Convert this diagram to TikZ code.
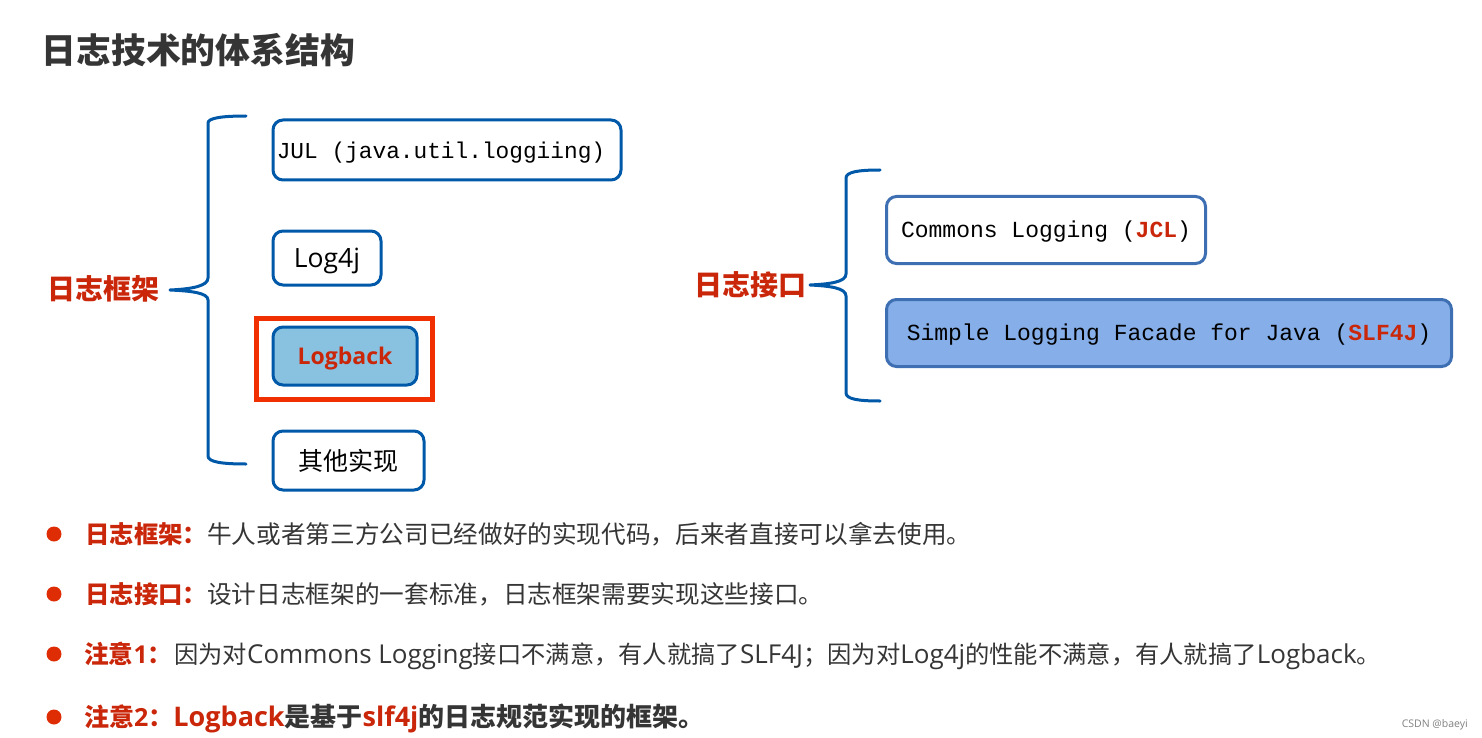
\documentclass[tikz,border=0pt]{standalone}
\usepackage{fontspec}
\setmainfont{Open Sans}
\newfontfamily\cjk{Noto Sans CJK SC}
\newfontfamily\lat{Open Sans}
\newfontfamily\mon{Liberation Mono}
\definecolor{boxblue}{HTML}{0058A8}
\definecolor{softblue}{HTML}{3E6FB2}
\definecolor{redtxt}{HTML}{C9260A}
\definecolor{redbox}{HTML}{F03000}
\definecolor{dotred}{HTML}{DE2C05}
\definecolor{ink}{HTML}{353535}
\definecolor{fillA}{HTML}{89C2E0}
\definecolor{fillB}{HTML}{86AEE8}
\newcommand{\fs}[1]{\fontsize{#1}{#1}\selectfont}
\newcommand{\rd}[1]{\textcolor{redtxt}{#1}}
\newcommand{\dn}[2]{\raisebox{-#1pt}[0pt][0pt]{#2}}
\newcommand{\la}[1]{{\lat\fs{26}#1}}
\tikzset{
  bx/.style={draw=boxblue,line width=3pt,rounded corners=10pt,inner sep=0pt,fill=white,text=black,align=center},
  softbx/.style={bx,draw=softblue},
  brace/.style={draw=boxblue,line width=3pt,line cap=round,line join=round},
  txt/.style={inner sep=0pt,anchor=base west,text=ink},
  dot/.style={circle,fill=dotred,draw=none,minimum size=15pt,inner sep=0pt},
  head/.style={inner sep=0pt,anchor=center,text=redtxt,font=\cjk\bfseries\fs{28}}
}
\begin{document}
\begin{tikzpicture}[x=1pt,y=-1pt]
\useasboundingbox (0,0) rectangle (1482,738);
\node[txt,font=\cjk\bfseries\fs{34.8},text=ink] (title) at (41.5,63.5) {日志技术的体系结构};
% left group
\node[bx,minimum width=348pt,minimum height=60pt] (jul) at (447,150) {\dn{8.5}{\mon\fs{22.8}JUL (java.util.loggiing)\hspace*{12pt}}};
\node[bx,minimum width=108pt,minimum height=54pt] (log4j) at (327,258) {\dn{9}{\lat\fs{26.5}Log4j}};
\node[draw=redbox,line width=5pt,minimum width=176pt,minimum height=81pt,inner sep=0pt] (hl) at (344.5,359) {};
\node[bx,fill=fillA,minimum width=144pt,minimum height=58pt] (logback) at (345,356) {\dn{8.5}{\lat\bfseries\fs{23}\rd{Logback}}};
\node[bx,minimum width=151pt,minimum height=59pt] (other) at (348.5,460.5) {\dn{9.5}{\cjk\fs{25}其他实现}};
\node[head] (fw) at (103,289) {日志框架};
\coordinate (lt) at (246,116);
\coordinate (lm) at (170,290);
\coordinate (lb) at (246,464);
\draw[brace] (lt) .. controls (222,116) and (208,118) .. (208,123) -- (208,278) .. controls (208,286) and (192,289) .. (lm)
  .. controls (192,291) and (208,293) .. (208,300) -- (208,456) .. controls (208,462) and (222,464) .. (lb);
% right group
\node[head] (ifc) at (750,285) {日志接口};
\node[softbx,minimum width=319pt,minimum height=67pt] (jcl) at (1046,230) {\dn{7.5}{\mon\fs{23}Commons Logging (\rd{\bfseries JCL})}};
\node[softbx,fill=fillB,minimum width=565pt,minimum height=67pt] (slf) at (1169,333) {\dn{7.5}{\mon\fs{23}Simple Logging Facade for Java (\rd{\bfseries SLF4J})}};
\coordinate (rt) at (880,170);
\coordinate (rm) at (810,285);
\coordinate (rb) at (880,401);
\draw[brace] (rt) .. controls (858,170) and (846,172) .. (846,178) -- (846,274) .. controls (846,282) and (830,284) .. (rm)
  .. controls (830,286) and (846,288) .. (846,296) -- (846,393) .. controls (846,399) and (858,401) .. (rb);
% bullets
\node[dot] (d1) at (54,534) {};
\node[dot] (d2) at (54,594) {};
\node[dot] (d3) at (54,654) {};
\node[dot] (d4) at (54,717) {};
\node[txt] (l1) at (85,543) {\cjk\fs{24.4}\rd{\bfseries 日志框架：}\fs{24.65}牛人或者第三方公司已经做好的实现代码，后来者直接可以拿去使用。};
\node[txt] (l2) at (85,603) {\cjk\fs{24.4}\rd{\bfseries 日志接口：}\fs{24.65}设计日志框架的一套标准，日志框架需要实现这些接口。};
\node[txt] (l3) at (84,663) {\cjk\fs{24.65}\rd{\bfseries 注意{\lat 1}：}\kern2pt \fs{24.3}因为对\la{Commons Logging}接口不满意，有人就搞了\la{SLF4J}；因为对\la{Log4j}的性能不满意，有人就搞了\la{Logback}。};
\node[txt] (l4) at (84,726) {\cjk\bfseries\fs{25}\rd{注意{\lat 2}：}\fs{26}\rd{\lat\fs{27}Logback}是基于\rd{\lat\fs{27}slf4j}的日志规范实现的框架。};
\node[inner sep=0pt,anchor=base east,text=black!50,font=\lat\fs{10.5}] (wm) at (1468,727) {CSDN @baeyi};
\end{tikzpicture}
\end{document}
